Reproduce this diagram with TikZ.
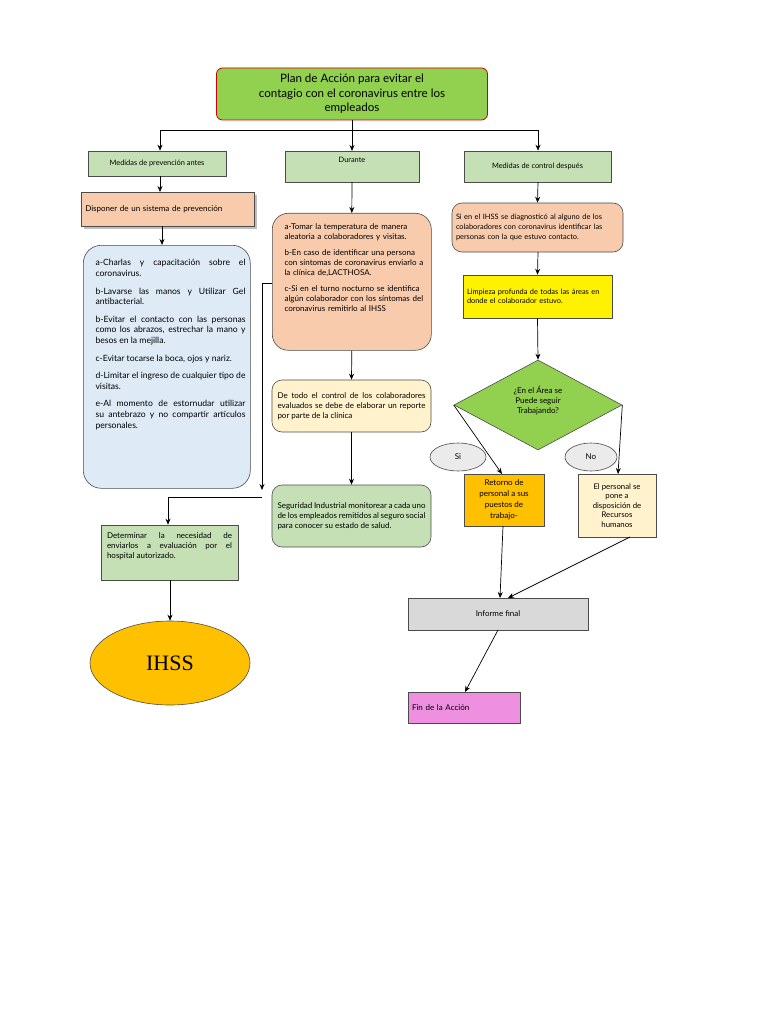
\documentclass[tikz,border=0pt]{standalone}
\usepackage{fontspec}
\setmainfont{Lato}
\newfontfamily\serifx{Liberation Serif}
\usetikzlibrary{shapes.geometric,arrows.meta}
\definecolor{tgreen}{HTML}{92D050}
\definecolor{lgreen}{HTML}{C5E0B4}
\definecolor{salmon}{HTML}{F8CBAD}
\definecolor{lblue}{HTML}{DEEBF7}
\definecolor{cream}{HTML}{FFF2CC}
\definecolor{orng}{HTML}{FFC000}
\definecolor{lgrey}{HTML}{D9D9D9}
\definecolor{pink}{HTML}{EE8FE0}
\newcommand{\nohy}{\hyphenpenalty=10000\exhyphenpenalty=10000 }
\newcommand{\sm}{\fontsize{7.4}{9.6}\selectfont\nohy}
\newcommand{\md}{\fontsize{8}{10}\selectfont\nohy}
\newcommand{\bigtxt}{\fontsize{8.6}{10.6}\selectfont\nohy}
\begin{document}
\begin{tikzpicture}[x=1pt,y=-1pt,
  bx/.style={draw=black!70,line width=0.6pt,inner sep=3pt,font=\sm},
  rbx/.style={bx,rounded corners=10pt},
  arr/.style={-{Stealth[length=6pt,width=5pt]},line width=0.7pt},
  ln/.style={line width=0.7pt}]
\useasboundingbox (0,0) rectangle (768,1024);
\fill[white] (0,0) rectangle (768,1024);
% title
\node[draw=red!80!black,fill=tgreen,rounded corners=6pt,line width=0.8pt,minimum width=271pt,minimum height=52pt,align=center,font=\fontsize{11.6}{14.5}\selectfont] (t) at (352,94) {Plan de Acción para evitar el\\contagio con el coronavirus entre los\\empleados};
\coordinate (hl) at (160,130); \coordinate (hr) at (538,130);
\node[bx,fill=lgreen,minimum width=138pt,minimum height=25pt] (a) at (157,163.5) {Medidas de prevención antes};
\node[bx,fill=lgreen,minimum width=134pt,minimum height=31pt,anchor=north] (b) at (352,151) {};
\node[font=\sm] at (352,160) {Durante};
\node[bx,fill=lgreen,minimum width=147pt,minimum height=31pt] (c) at (537.5,166.5) {Medidas de control después};
\draw[ln] (t.south) -- (352,130);
\draw[ln] (hl) -- (hr);
\draw[arr] (hl) -- (a.north -| hl);
\draw[arr] (352,130) -- (b.north);
\draw[arr] (hr) -- (c.north -| hr);
% left column
\fill[black!25] (84,195) rectangle (257,229);
\node[bx,fill=salmon,minimum width=173pt,minimum height=34pt,text width=165pt,anchor=north west,font=\md] (d) at (81,192) {Disponer de un sistema de prevención};
\draw[arr] (160,176) -- (160,192);
\node[rbx,rounded corners=18pt,fill=lblue,minimum width=167pt,minimum height=243pt,anchor=north west] (e) at (83,245) {};
\node[text width=150pt,align=justify,anchor=north west,font=\bigtxt] at (92,256) {a-Charlas y capacitación sobre el coronavirus.\\[7pt]
b-Lavarse las manos y Utilizar Gel antibacterial.\\[7pt]
b-Evitar el contacto con las personas como los abrazos, estrechar la mano y besos en la mejilla.\\[7pt]
c-Evitar tocarse la boca, ojos y nariz.\\[7pt]
d-Limitar el ingreso de cualquier tipo de visitas.\\[7pt]
e-Al momento de estornudar utilizar su antebrazo y no compartir artículos personales.};
\draw[arr] (162,226) -- (162,245);
% middle column
\node[rbx,rounded corners=16pt,fill=salmon,minimum width=159pt,minimum height=137pt,anchor=north west] (f) at (272,213) {};
\node[text width=142pt,anchor=north west,font=\md] at (281,220) {a-Tomar la temperatura de manera aleatoria a colaboradores y visitas.\\[6pt]
b-En caso de identificar una persona con síntomas de coronavirus enviarlo a la clínica de,LACTHOSA.\\[6pt]
c-Si en el turno nocturno se identifica algún colaborador con los síntomas del coronavirus remitirlo al IHSS};
\draw[arr] (352,182) -- (f.north);
\node[rbx,fill=cream,minimum width=159pt,minimum height=52pt,text width=148pt,align=justify,font=\md] (g) at (351.5,406) {De todo el control de los colaboradores evaluados se debe de elaborar un reporte por parte de la clínica};
\draw[arr] (f.south) -- (g.north);
\node[rbx,fill=lgreen,minimum width=159pt,minimum height=62pt,text width=148pt,align=justify,font=\md] (h) at (351.5,516) {Seguridad Industrial monitorear a cada uno de los empleados remitidos al seguro social para conocer su estado de salud.};
\draw[arr] (g.south) -- (h.north);
\node[bx,fill=lgreen,minimum width=137pt,minimum height=55pt,text width=125pt,align=justify,font=\md] (i) at (169.5,552.5) {Determinar la necesidad de enviarlos a evaluación por el hospital autorizado.\\[4pt]};
\coordinate (j1) at (262,283); \coordinate (j2) at (262,490); \coordinate (j3) at (168,497);
\draw[ln] (272,283) -- (j1);
\draw[arr] (j1) -- (j2);
\draw[ln] (262,497) -- (j3);
\draw[arr] (j3) -- (i.north -| j3);
\node[ellipse,draw=black!70,line width=0.6pt,fill=orng,minimum width=160pt,minimum height=84pt,font=\serifx\fontsize{22}{24}\selectfont] (k) at (170,663) {IHSS};
\draw[arr] (170,580) -- (k.north);
% right column
\node[rbx,fill=salmon,minimum width=171pt,minimum height=49pt,text width=163pt,font=\sm] (l) at (537.5,227.5) {Si en el IHSS se diagnosticó al alguno de los colaboradores con coronavirus identificar las personas con la que estuvo contacto.};
\draw[arr] (538,182) -- (l.north);
\node[bx,fill=yellow,minimum width=149pt,minimum height=43pt,text width=141pt] (m) at (537.5,296.5) {Limpieza profunda de todas las áreas en donde el colaborador estuvo.\\[4pt]};
\draw[arr] (538,252) -- (m.north);
\node[diamond,draw=black!70,line width=0.6pt,fill=tgreen,minimum width=168pt,minimum height=90pt,aspect=1.87,inner sep=0pt] (n) at (538,405) {};
\node[align=center,font=\md] at (538,401) {¿En el Área se\\Puede seguir\\Trabajando?};
\draw[arr] (m.south) -- (n.north);
\node[ellipse,draw=black!70,line width=0.6pt,fill=black!8,minimum width=56pt,minimum height=28pt,font=\md] (si) at (458,457) {Si};
\node[ellipse,draw=black!70,line width=0.6pt,fill=black!8,minimum width=52pt,minimum height=28pt,font=\md] (no) at (591,457) {No};
\node[bx,fill=orng,minimum width=80pt,minimum height=52pt,align=center,font=\fontsize{8}{11}\selectfont] (o) at (504,500) {Retorno de\\personal a sus\\puestos de\\trabajo-};
\node[bx,fill=cream,minimum width=78pt,minimum height=63pt,align=center,font=\fontsize{7.8}{9.6}\selectfont] (p) at (617,505.5) {El personal se\\pone a\\disposición de\\Recursos\\humanos};
\draw[arr] (n.west) -- (502,474);
\draw[arr] (n.east) -- (618,474);
\node[bx,fill=lgrey,minimum width=180pt,minimum height=32pt,font=\md] (q) at (498,614) {Informe final\\[6pt]};
\draw[arr] (503,526) -- (500,598);
\draw[arr] (630,537) -- (508,598);
\node[bx,fill=pink,minimum width=112pt,minimum height=31pt,text width=104pt,font=\md] (r) at (464,707.5) {Fin de la Acción\\[5pt]};
\draw[arr] (498,630) -- (465,692);
\end{tikzpicture}
\end{document}
